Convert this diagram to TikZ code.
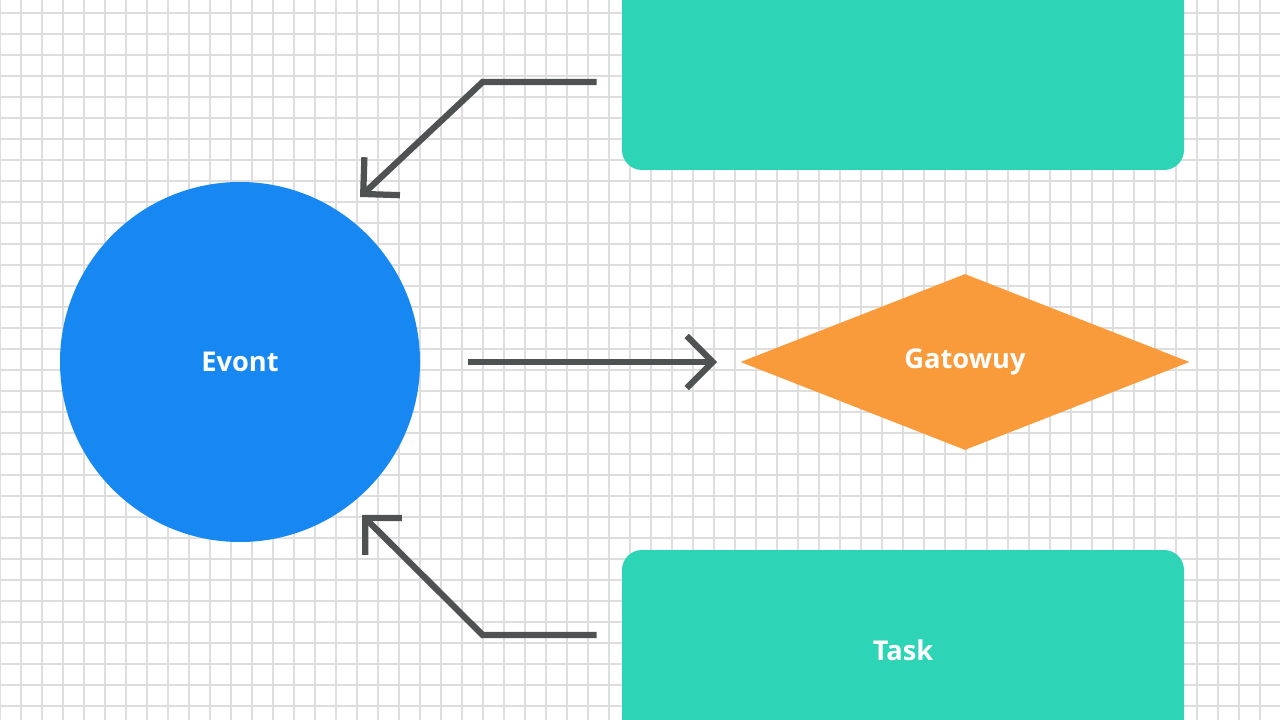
\documentclass[tikz,border=0pt]{standalone}
\usepackage{fontspec}
\setmainfont{Open Sans}
\usetikzlibrary{shapes.geometric,arrows.meta}
\definecolor{eventblue}{HTML}{1787F2}
\definecolor{gateorange}{HTML}{FA9B3B}
\definecolor{taskteal}{HTML}{2DD4B5}
\definecolor{flowgray}{HTML}{4F5252}

\begin{document}
\begin{tikzpicture}[x=0.2mm,y=-0.2mm,
    gridline/.style={black!13,line width=0.22mm},
    txt/.style={text=white,font=\bfseries\fontsize{15.5}{18}\selectfont},
    taskbox/.style={rectangle,rounded corners=4mm,fill=taskteal,
      minimum width=112.4mm,minimum height=40mm,txt},
    flow/.style={draw=flowgray,line width=1.25mm,
      -{Straight Barb[length=5.2mm,width=10.4mm]}}]
    \useasboundingbox (0,0) rectangle (1280,720);
    \clip (0,0) rectangle (1280,720);
    \fill[white] (0,0) rectangle (1280,720);
    \foreach \gx in {0,21,...,1280} \draw[gridline] (\gx,0) -- (\gx,720);
    \foreach \gy in {13,34,...,720} \draw[gridline] (0,\gy) -- (1280,\gy);
    \node[circle,fill=eventblue,minimum size=72mm,inner sep=0,txt] (event)
    at (240,362) {Evont};
    \node[diamond,fill=gateorange,aspect=2.55,inner sep=0,
    minimum width=89.8mm,minimum height=35.2mm,txt] (gateway) at (965,362) {Gatowuy};
    \node[taskbox] (tasktop) at (903,70) {};
    \node[taskbox] (task) at (903,650) {Task};
    \coordinate (tipA) at ([shift={(120,-165)}]event.center);
    \coordinate (tipB) at ([shift={(122,153)}]event.center);
    \draw[flow] ([shift={(-25,12)}]tasktop.west) -- ++(-114,0) -- (tipA);
    \draw[flow] ([shift={(48,0)}]event.east) -- ([shift={(-23,0)}]gateway.west);
    \draw[flow] ([shift={(-25,-15)}]task.west) -- ++(-114,0) -- (tipB);
  \end{tikzpicture}
\end{document}
